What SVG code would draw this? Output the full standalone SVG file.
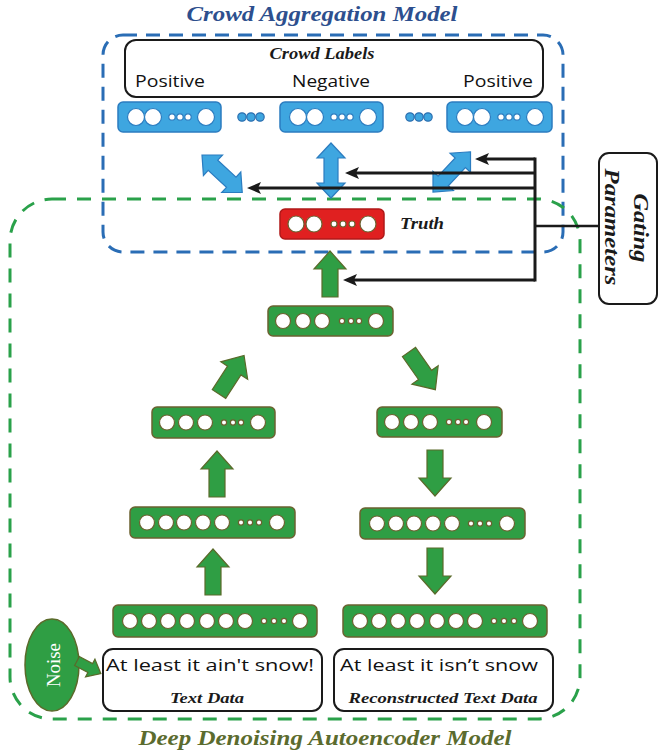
<svg xmlns="http://www.w3.org/2000/svg" xmlns:xlink="http://www.w3.org/1999/xlink" width="666" height="755" viewBox="0 0 666 755">
<style>
.title{font-family:"Liberation Serif",serif;font-weight:bold;font-style:italic;font-size:21px}
.lbl{font-family:"Liberation Serif",serif;font-weight:bold;font-style:italic;fill:#1a1a1a}
.hand{font-family:"Open Sans","DejaVu Sans",sans-serif;font-size:17px;fill:#111}
.gnode{fill:#2f9e44;stroke:#6b6230;stroke-width:1.5}
.bnode{fill:#3ea6e0;stroke:#2b7cc0;stroke-width:1.5}
.rnode{fill:#e02020;stroke:#b01818;stroke-width:1.5}
.wc{fill:#fff;stroke:#6b6230;stroke-width:1.2}
.bc{fill:#fff;stroke:#2b7cc0;stroke-width:1.2}
.bd{fill:#3ea6e0;stroke:#2b6fb0;stroke-width:1.2}
.garr{fill:#2f9e44;stroke:#5a6a2a;stroke-width:1.2}
.barr{fill:#3ea6e0;stroke:#2b7cc0;stroke-width:1.2}
.box{fill:#fff;stroke:#1a1a1a;stroke-width:2}
.conn{fill:none;stroke:#1a1a1a;stroke-width:3}
</style>
<defs>
<path id="ga" d="M0,-8 L28,-8 L28,-16 L46,0 L28,16 L28,8 L0,8 Z"/>
<path id="ba" d="M0,0 L15,-14 L15,-7 L40,-7 L40,-14 L55,0 L40,14 L40,7 L15,7 L15,14 Z"/>
<marker id="ah" viewBox="0 0 14 12" refX="3" refY="6" markerWidth="14" markerHeight="12" markerUnits="userSpaceOnUse" orient="auto">
<path d="M0,0 L14,6 L0,12 L3,6 Z" fill="#1a1a1a"/>
</marker>
</defs>
<rect width="666" height="755" fill="#fff"/>

<g id="crowd-aggregation-frame">
<rect x="103" y="35" width="460" height="217" rx="20" fill="none" stroke="#2a6db5" stroke-width="3" stroke-dasharray="14 9"/>
<text class="title" x="322" y="21" text-anchor="middle" fill="#2d4f8e" textLength="271" lengthAdjust="spacingAndGlyphs">Crowd Aggregation Model</text>
</g>
<g id="autoencoder-frame">
<rect x="10" y="199" width="570" height="520" rx="42" fill="none" stroke="#2aa14a" stroke-width="3" stroke-dasharray="14 11"/>
<text class="title" x="325" y="745" text-anchor="middle" fill="#5b6b2e" textLength="373" lengthAdjust="spacingAndGlyphs">Deep Denoising Autoencoder Model</text>
</g>

<g id="crowd-labels">
<rect class="box" x="125" y="40" width="418" height="57" rx="11"/>
<text class="lbl" x="322" y="59" font-size="16" text-anchor="middle" textLength="105" lengthAdjust="spacingAndGlyphs">Crowd Labels</text>
<text class="hand" x="135" y="87" textLength="70" lengthAdjust="spacingAndGlyphs">Positive</text>
<text class="hand" x="292" y="87" textLength="78" lengthAdjust="spacingAndGlyphs">Negative</text>
<text class="hand" x="463" y="87" textLength="70" lengthAdjust="spacingAndGlyphs">Positive</text>
</g>

<g id="blue-node-1">
<rect class="bnode" x="118" y="102" width="103" height="30" rx="5"/>
<circle class="bc" cx="136" cy="117" r="8.5"/><circle class="bc" cx="153" cy="117" r="8.5"/>
<circle class="bc" cx="172" cy="117" r="3.2"/><circle class="bc" cx="180" cy="117" r="3.2"/><circle class="bc" cx="188" cy="117" r="3.2"/>
<circle class="bc" cx="206" cy="117" r="8.5"/>
</g>
<g id="blue-ellipsis-1">
<circle class="bd" cx="242" cy="117" r="4.2"/><circle class="bd" cx="251" cy="117" r="4.2"/><circle class="bd" cx="260" cy="117" r="4.2"/>
</g>
<g id="blue-node-2">
<rect class="bnode" x="280" y="102" width="103" height="30" rx="5"/>
<circle class="bc" cx="298" cy="117" r="8.5"/><circle class="bc" cx="315" cy="117" r="8.5"/>
<circle class="bc" cx="334" cy="117" r="3.2"/><circle class="bc" cx="342" cy="117" r="3.2"/><circle class="bc" cx="350" cy="117" r="3.2"/>
<circle class="bc" cx="368" cy="117" r="8.5"/>
</g>
<g id="blue-ellipsis-2">
<circle class="bd" cx="410" cy="117" r="4.2"/><circle class="bd" cx="419" cy="117" r="4.2"/><circle class="bd" cx="428" cy="117" r="4.2"/>
</g>
<g id="blue-node-3">
<rect class="bnode" x="447" y="102" width="105" height="30" rx="5"/>
<circle class="bc" cx="465" cy="117" r="8.5"/><circle class="bc" cx="482" cy="117" r="8.5"/>
<circle class="bc" cx="501" cy="117" r="3.2"/><circle class="bc" cx="509" cy="117" r="3.2"/><circle class="bc" cx="517" cy="117" r="3.2"/>
<circle class="bc" cx="535" cy="117" r="8.5"/>
</g>

<g id="truth-node">
<rect class="rnode" x="280" y="209" width="104" height="30" rx="5"/>
<circle class="wc" cx="296" cy="224" r="8"/><circle class="wc" cx="314" cy="224" r="8"/>
<circle class="wc" cx="334" cy="224" r="3"/><circle class="wc" cx="343" cy="224" r="3"/><circle class="wc" cx="352" cy="224" r="3"/>
<circle class="wc" cx="368" cy="224" r="8"/>
<text class="lbl" x="400" y="229" font-size="17" textLength="44" lengthAdjust="spacingAndGlyphs">Truth</text>
</g>

<g id="gating-parameters">
<rect class="box" x="599" y="153" width="58" height="151" rx="10"/>
<text class="lbl" font-size="22" text-anchor="middle" transform="translate(634,228) rotate(90)" textLength="69" lengthAdjust="spacingAndGlyphs">Gating</text>
<text class="lbl" font-size="22" text-anchor="middle" transform="translate(605,227) rotate(90)" textLength="117" lengthAdjust="spacingAndGlyphs">Parameters</text>
</g>

<g id="enc-top">
<rect class="gnode" x="268" y="306" width="125" height="30" rx="5"/>
<circle class="wc" cx="283" cy="321" r="7.5"/><circle class="wc" cx="303" cy="321" r="7.5"/><circle class="wc" cx="322" cy="321" r="7.5"/>
<circle class="wc" cx="342" cy="321" r="2.6"/><circle class="wc" cx="351" cy="321" r="2.6"/><circle class="wc" cx="359" cy="321" r="2.6"/>
<circle class="wc" cx="376" cy="321" r="7.5"/>
</g>
<g id="enc-2">
<rect class="gnode" x="152" y="407" width="123" height="31" rx="5"/>
<circle class="wc" cx="167" cy="422.5" r="7.5"/><circle class="wc" cx="186" cy="422.5" r="7.5"/><circle class="wc" cx="205" cy="422.5" r="7.5"/>
<circle class="wc" cx="224" cy="422.5" r="2.6"/><circle class="wc" cx="233" cy="422.5" r="2.6"/><circle class="wc" cx="241" cy="422.5" r="2.6"/>
<circle class="wc" cx="258" cy="422.5" r="7.5"/>
</g>
<g id="dec-2">
<rect class="gnode" x="377" y="407" width="125" height="30" rx="5"/>
<circle class="wc" cx="392" cy="422" r="7.5"/><circle class="wc" cx="411" cy="422" r="7.5"/><circle class="wc" cx="430" cy="422" r="7.5"/>
<circle class="wc" cx="449" cy="422" r="2.6"/><circle class="wc" cx="458" cy="422" r="2.6"/><circle class="wc" cx="466" cy="422" r="2.6"/>
<circle class="wc" cx="484" cy="422" r="7.5"/>
</g>
<g id="enc-3">
<rect class="gnode" x="130" y="507" width="165" height="31" rx="5"/>
<circle class="wc" cx="147" cy="522.5" r="7.5"/><circle class="wc" cx="166" cy="522.5" r="7.5"/><circle class="wc" cx="184" cy="522.5" r="7.5"/><circle class="wc" cx="203" cy="522.5" r="7.5"/><circle class="wc" cx="222" cy="522.5" r="7.5"/>
<circle class="wc" cx="241" cy="522.5" r="2.6"/><circle class="wc" cx="250" cy="522.5" r="2.6"/><circle class="wc" cx="259" cy="522.5" r="2.6"/>
<circle class="wc" cx="277" cy="522.5" r="7.5"/>
</g>
<g id="dec-3">
<rect class="gnode" x="360" y="508" width="165" height="31" rx="5"/>
<circle class="wc" cx="377" cy="523.5" r="7.5"/><circle class="wc" cx="396" cy="523.5" r="7.5"/><circle class="wc" cx="414" cy="523.5" r="7.5"/><circle class="wc" cx="433" cy="523.5" r="7.5"/><circle class="wc" cx="452" cy="523.5" r="7.5"/>
<circle class="wc" cx="471" cy="523.5" r="2.6"/><circle class="wc" cx="480" cy="523.5" r="2.6"/><circle class="wc" cx="489" cy="523.5" r="2.6"/>
<circle class="wc" cx="507" cy="523.5" r="7.5"/>
</g>
<g id="enc-4">
<rect class="gnode" x="113" y="605" width="204" height="32" rx="5"/>
<circle class="wc" cx="130" cy="621" r="7.5"/><circle class="wc" cx="149" cy="621" r="7.5"/><circle class="wc" cx="168" cy="621" r="7.5"/><circle class="wc" cx="187" cy="621" r="7.5"/><circle class="wc" cx="207" cy="621" r="7.5"/><circle class="wc" cx="226" cy="621" r="7.5"/><circle class="wc" cx="245" cy="621" r="7.5"/>
<circle class="wc" cx="264" cy="621" r="2.6"/><circle class="wc" cx="274" cy="621" r="2.6"/><circle class="wc" cx="284" cy="621" r="2.6"/>
<circle class="wc" cx="300" cy="621" r="7.5"/>
</g>
<g id="dec-4">
<rect class="gnode" x="343" y="605" width="204" height="32" rx="5"/>
<circle class="wc" cx="360" cy="621" r="7.5"/><circle class="wc" cx="379" cy="621" r="7.5"/><circle class="wc" cx="398" cy="621" r="7.5"/><circle class="wc" cx="417" cy="621" r="7.5"/><circle class="wc" cx="437" cy="621" r="7.5"/><circle class="wc" cx="456" cy="621" r="7.5"/><circle class="wc" cx="475" cy="621" r="7.5"/>
<circle class="wc" cx="494" cy="621" r="2.6"/><circle class="wc" cx="504" cy="621" r="2.6"/><circle class="wc" cx="514" cy="621" r="2.6"/>
<circle class="wc" cx="530" cy="621" r="7.5"/>
</g>

<g id="text-data">
<rect class="box" x="103" y="649" width="219" height="62" rx="10"/>
<text class="hand" x="106" y="671" font-size="18" textLength="208" lengthAdjust="spacingAndGlyphs">At least it ain't snow!</text>
<text class="lbl" x="207" y="703" font-size="15" text-anchor="middle" textLength="74" lengthAdjust="spacingAndGlyphs">Text Data</text>
</g>
<g id="reconstructed-text-data">
<rect class="box" x="334" y="649" width="219" height="62" rx="10"/>
<text class="hand" x="340" y="671" font-size="18" textLength="198" lengthAdjust="spacingAndGlyphs">At least it isn’t snow</text>
<text class="lbl" x="443" y="703" font-size="15" text-anchor="middle" textLength="189" lengthAdjust="spacingAndGlyphs">Reconstructed Text Data</text>
</g>
<g id="noise">
<ellipse cx="52" cy="665" rx="27" ry="46" fill="#2f9e44" stroke="#5a6a2a" stroke-width="1.5"/>
<text transform="translate(60,665) rotate(-90)" text-anchor="middle" font-family="Liberation Serif,serif" font-size="18" fill="#fff" textLength="44" lengthAdjust="spacingAndGlyphs">Noise</text>
</g>

<g id="connectors">
<use href="#ba" class="barr" transform="translate(202,155) rotate(43)"/>
<use href="#ba" class="barr" transform="translate(331,143) rotate(90)"/>
<use href="#ba" class="barr" transform="translate(433,192) rotate(-47)"/>
<path class="conn" d="M535,159 L535,280" stroke-linecap="square"/>
<path class="conn" d="M535,159 L486,159" marker-end="url(#ah)"/>
<path class="conn" d="M535,173 L356,173" marker-end="url(#ah)"/>
<path class="conn" d="M535,188 L258,188" marker-end="url(#ah)"/>
<path class="conn" d="M535,280 L354,280" marker-end="url(#ah)"/>
<path d="M535,226 L599,226" fill="none" stroke="#1a1a1a" stroke-width="2.5"/>
<use href="#ga" class="garr" transform="translate(330,297) rotate(-90)"/>
<use href="#ga" class="garr" transform="translate(219,394) rotate(-57)"/>
<use href="#ga" class="garr" transform="translate(409,352) rotate(55)"/>
<use href="#ga" class="garr" transform="translate(217,497) rotate(-90)"/>
<use href="#ga" class="garr" transform="translate(213,595) rotate(-90)"/>
<use href="#ga" class="garr" transform="translate(435,450) rotate(90)"/>
<use href="#ga" class="garr" transform="translate(435,548) rotate(90)"/>
<path class="garr" d="M0,-5 L15,-5 L15,-10 L27,0 L15,10 L15,5 L0,5 Z" transform="translate(77,661) rotate(28)"/>
</g>
</svg>
